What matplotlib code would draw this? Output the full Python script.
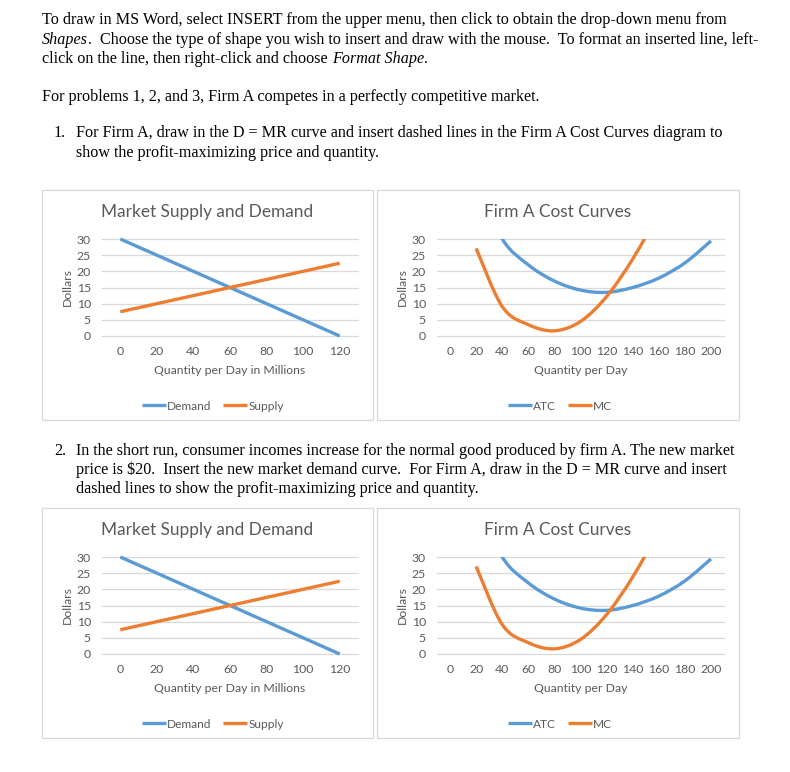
import matplotlib
matplotlib.use('Agg')
import matplotlib.pyplot as plt
from matplotlib.path import Path
from matplotlib.patches import PathPatch, Rectangle
from matplotlib.lines import Line2D

# ---------------- data ----------------
market_qty = [0, 20, 40, 60, 80, 100, 120]
demand = [30, 25, 20, 15, 10, 5, 0]
supply = [7.5, 10, 12.5, 15, 17.5, 20, 22.5]

firm_qty = [0, 20, 40, 60, 80, 100, 120, 140, 160, 180, 200]
atc = [None, 48.0, 30.0, 22.0, 17.0, 14.2, 13.5, 15.0, 17.9, 22.6, 29.4]
mc = [None, 27.1, 9.1, 3.5, 1.6, 4.5, 12.2, 23.8, 38.0, None, None]

y_ticks = [0, 5, 10, 15, 20, 25, 30]

market_title = "Market Supply and Demand"
firm_title = "Firm A Cost Curves"
market_xlabel = "Quantity per Day in Millions"
firm_xlabel = "Quantity per Day"
ylabel = "Dollars"

BLUE = '#5B9BD5'
ORANGE = '#ED7D31'
TXT = '#595959'
GRID = '#D9D9D9'
CHART_FONT = 'Lato'
BODY_FONT = 'Liberation Serif'

W, H = 790, 772
fig = plt.figure(figsize=(W / 100, H / 100), dpi=100)
fig.patch.set_facecolor('white')


def fx(px):
    return px / W


def fy(py):
    return 1 - py / H


renderer = fig.canvas.get_renderer()


def write_line(x, y, segments, size=11.6):
    """segments: list of (text, italic)"""
    cx = x
    for txt, ital in segments:
        t = fig.text(fx(cx), fy(y), txt, family=BODY_FONT, fontsize=size,
                     style='italic' if ital else 'normal', va='center', ha='left',
                     color='black', parse_math=False)
        bb = t.get_window_extent(renderer=renderer)
        cx += bb.width


# ---------------- body text ----------------
write_line(42, 20, [("To draw in MS Word, select INSERT from the upper menu, then click to obtain the drop-down menu from", False)])
write_line(42, 40, [("Shapes", True), (".  Choose the type of shape you wish to insert and draw with the mouse.  To format an inserted line, left-", False)])
write_line(42, 59, [("click on the line, then right-click and choose ", False), ("Format Shape", True), (".", False)])
write_line(42, 97, [("For problems 1, 2, and 3, Firm A competes in a perfectly competitive market.", False)])
write_line(54, 133, [("1.", False)])
write_line(76, 133, [("For Firm A, draw in the D = MR curve and insert dashed lines in the Firm A Cost Curves diagram to", False)])
write_line(76, 153, [("show the profit-maximizing price and quantity.", False)])
write_line(54, 451, [("2.", False)])
write_line(76, 451, [("In the short run, consumer incomes increase for the normal good produced by firm A. The new market", False)])
write_line(76, 470, [("price is $20.  Insert the new market demand curve.  For Firm A, draw in the D = MR curve and insert", False)])
write_line(76, 489, [("dashed lines to show the profit-maximizing price and quantity.", False)])


def smooth_path(xs, ys):
    pts = [(x, y) for x, y in zip(xs, ys) if y is not None]
    n = len(pts)
    verts = [pts[0]]
    codes = [Path.MOVETO]
    for i in range(n - 1):
        p0 = pts[i - 1] if i > 0 else pts[i]
        p1 = pts[i]
        p2 = pts[i + 1]
        p3 = pts[i + 2] if i + 2 < n else pts[i + 1]
        c1 = (p1[0] + (p2[0] - p0[0]) / 6, p1[1] + (p2[1] - p0[1]) / 6)
        c2 = (p2[0] - (p3[0] - p1[0]) / 6, p2[1] - (p3[1] - p1[1]) / 6)
        verts += [c1, c2, p2]
        codes += [Path.CURVE4] * 3
    return Path(verts, codes)


def make_chart(box, plot_lr, top_offset, cats, series, title, xlabel, legend_cx, smooth):
    bx0, bx1 = box
    by0, by1 = 190 + top_offset, 420 + top_offset
    fig.add_artist(Rectangle((fx(bx0), fy(by1)), fx(bx1) - fx(bx0), fy(by0) - fy(by1),
                             transform=fig.transFigure, fill=False, edgecolor=GRID, lw=0.9))
    px0, px1 = plot_lr
    py_top, py_bot = 239 + top_offset, 336 + top_offset
    ax = fig.add_axes([fx(px0), fy(py_bot), fx(px1) - fx(px0), fy(py_top) - fy(py_bot)])
    ax.set_facecolor('none')
    for s in ax.spines.values():
        s.set_visible(False)
    n = len(cats)
    ax.set_xlim(-0.5, n - 0.5)
    ax.set_ylim(0, 30)
    for yv in y_ticks:
        ax.axhline(yv, color=GRID, lw=0.9, zorder=0, clip_on=False)
    ax.set_yticks(y_ticks)
    ax.set_yticklabels([str(v) for v in y_ticks], family=CHART_FONT, fontsize=8.8, color=TXT)
    ax.set_xticks(range(n))
    ax.set_xticklabels([str(c) for c in cats], family=CHART_FONT, fontsize=8.8, color=TXT)
    ax.tick_params(axis='both', length=0)
    ax.tick_params(axis='x', pad=7.5)
    ax.tick_params(axis='y', pad=8)
    handles = []
    for name, vals, col in series:
        idx = list(range(n))
        if smooth:
            path = smooth_path(idx, vals)
            patch = PathPatch(path, facecolor='none', edgecolor=col, lw=2.4,
                              capstyle='butt', joinstyle='round', zorder=3)
            ax.add_patch(patch)
        else:
            ax.plot(idx, vals, color=col, lw=2.4, solid_capstyle='butt', clip_on=False, zorder=3)
        handles.append(Line2D([], [], color=col, lw=2.4, solid_capstyle='butt'))
    fig.text(fx((bx0 + bx1) / 2), fy(212 + top_offset), title, family=CHART_FONT, fontsize=12.4,
             color=TXT, ha='center', va='center')
    fig.text(fx((px0 + px1) / 2), fy(371 + top_offset), xlabel, family=CHART_FONT, fontsize=8.8,
             color=TXT, ha='center', va='center')
    fig.text(fx(plot_lr[0] - 35), fy(287 + top_offset), ylabel, family=CHART_FONT, fontsize=8.8,
             color=TXT, ha='center', va='center', rotation=90)
    leg = ax.legend(handles, [s[0] for s in series], loc='center',
                    bbox_to_anchor=(fx(legend_cx), fy(406 + top_offset)),
                    bbox_transform=fig.transFigure, ncol=2, frameon=False,
                    handlelength=2.0, handletextpad=0.1, columnspacing=1.0,
                    prop={'family': CHART_FONT, 'size': 8.6})
    for t in leg.get_texts():
        t.set_color(TXT)
    return ax


for off in (0, 318):
    make_chart((42, 373), (102, 358), off, market_qty,
               [("Demand", demand, BLUE), ("Supply", supply, ORANGE)],
               market_title, market_xlabel, 213, False)
    make_chart((377, 739), (437, 724), off, firm_qty,
               [("ATC", atc, BLUE), ("MC", mc, ORANGE)],
               firm_title, firm_xlabel, 560, True)

fig.savefig('out.png', dpi=100, facecolor='white')
